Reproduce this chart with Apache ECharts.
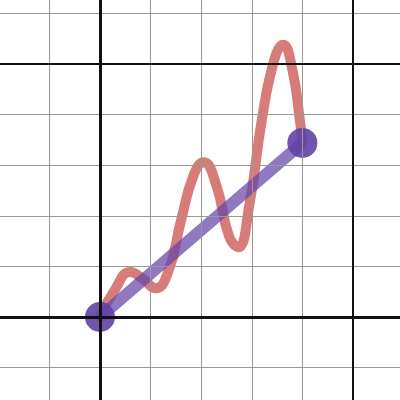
<!DOCTYPE html>
<html>
<head>
<meta charset="utf-8">
<script src="https://cdn.jsdelivr.net/npm/echarts@6/dist/echarts.min.js"></script>
<style>html,body{margin:0;padding:0;background:#fff}#chart{width:400px;height:400px}</style>
</head>
<body>
<div id="chart"></div>
<script>
// wiggly curve
const curveX = [0, 0.3, 0.6, 0.85, 1.1, 1.35, 1.6, 1.85, 2.05, 2.3, 2.55, 2.73, 2.95, 3.2, 3.45, 3.62, 3.8, 3.95, 4];
const curveY = [0, 0.55, 0.89, 0.75, 0.57, 0.9, 1.9, 2.8, 3.06, 2.6, 1.6, 1.38, 2.2, 3.9, 5.1, 5.38, 4.9, 3.9, 3.44];
// straight segment between the two points
const segX = [0, 4];
const segY = [0, 3.44];
const gridXs = [-1, 1, 2, 3, 4];
const gridYs = [-1, 1, 2, 3, 4, 6];
const majorLines = [0, 5];

const chart = echarts.init(document.getElementById('chart'));
const pairs = (xs, ys) => xs.map((x, i) => [x, ys[i]]);
const hidden = { show: false };
const minorStyle = { color: '#999', width: 1, type: 'solid' };
const majorStyle = v => ({ color: '#111', width: v === 0 ? 3 : 2, type: 'solid' });
chart.setOption({
  animation: false,
  grid: { left: 0, right: 0, top: 0, bottom: 0 },
  xAxis: {
    type: 'value', min: -1.976, max: 5.93,
    axisLine: hidden, axisTick: hidden, axisLabel: hidden, splitLine: hidden
  },
  yAxis: {
    type: 'value', min: -1.64, max: 6.265,
    axisLine: hidden, axisTick: hidden, axisLabel: hidden, splitLine: hidden
  },
  series: [
    {
      type: 'line', data: [], silent: true,
      markLine: {
        symbol: 'none', silent: true, label: { show: false }, emphasis: { disabled: true },
        data: [
          ...gridXs.map(v => ({ xAxis: v, lineStyle: minorStyle })),
          ...gridYs.map(v => ({ yAxis: v, lineStyle: minorStyle })),
          ...majorLines.flatMap(v => [
            { xAxis: v, lineStyle: majorStyle(v) },
            { yAxis: v, lineStyle: majorStyle(v) }
          ])
        ]
      }
    },
    {
      type: 'line', data: pairs(curveX, curveY), smooth: 0.5, showSymbol: false,
      lineStyle: { color: '#c74440', width: 10, opacity: 0.7, cap: 'round' }
    },
    {
      type: 'line', data: pairs(segX, segY), symbol: 'circle', symbolSize: 30,
      itemStyle: { color: '#6042a6', opacity: 0.9 },
      lineStyle: { color: '#6042a6', width: 12, opacity: 0.7 }
    }
  ]
});
</script>
</body>
</html>
